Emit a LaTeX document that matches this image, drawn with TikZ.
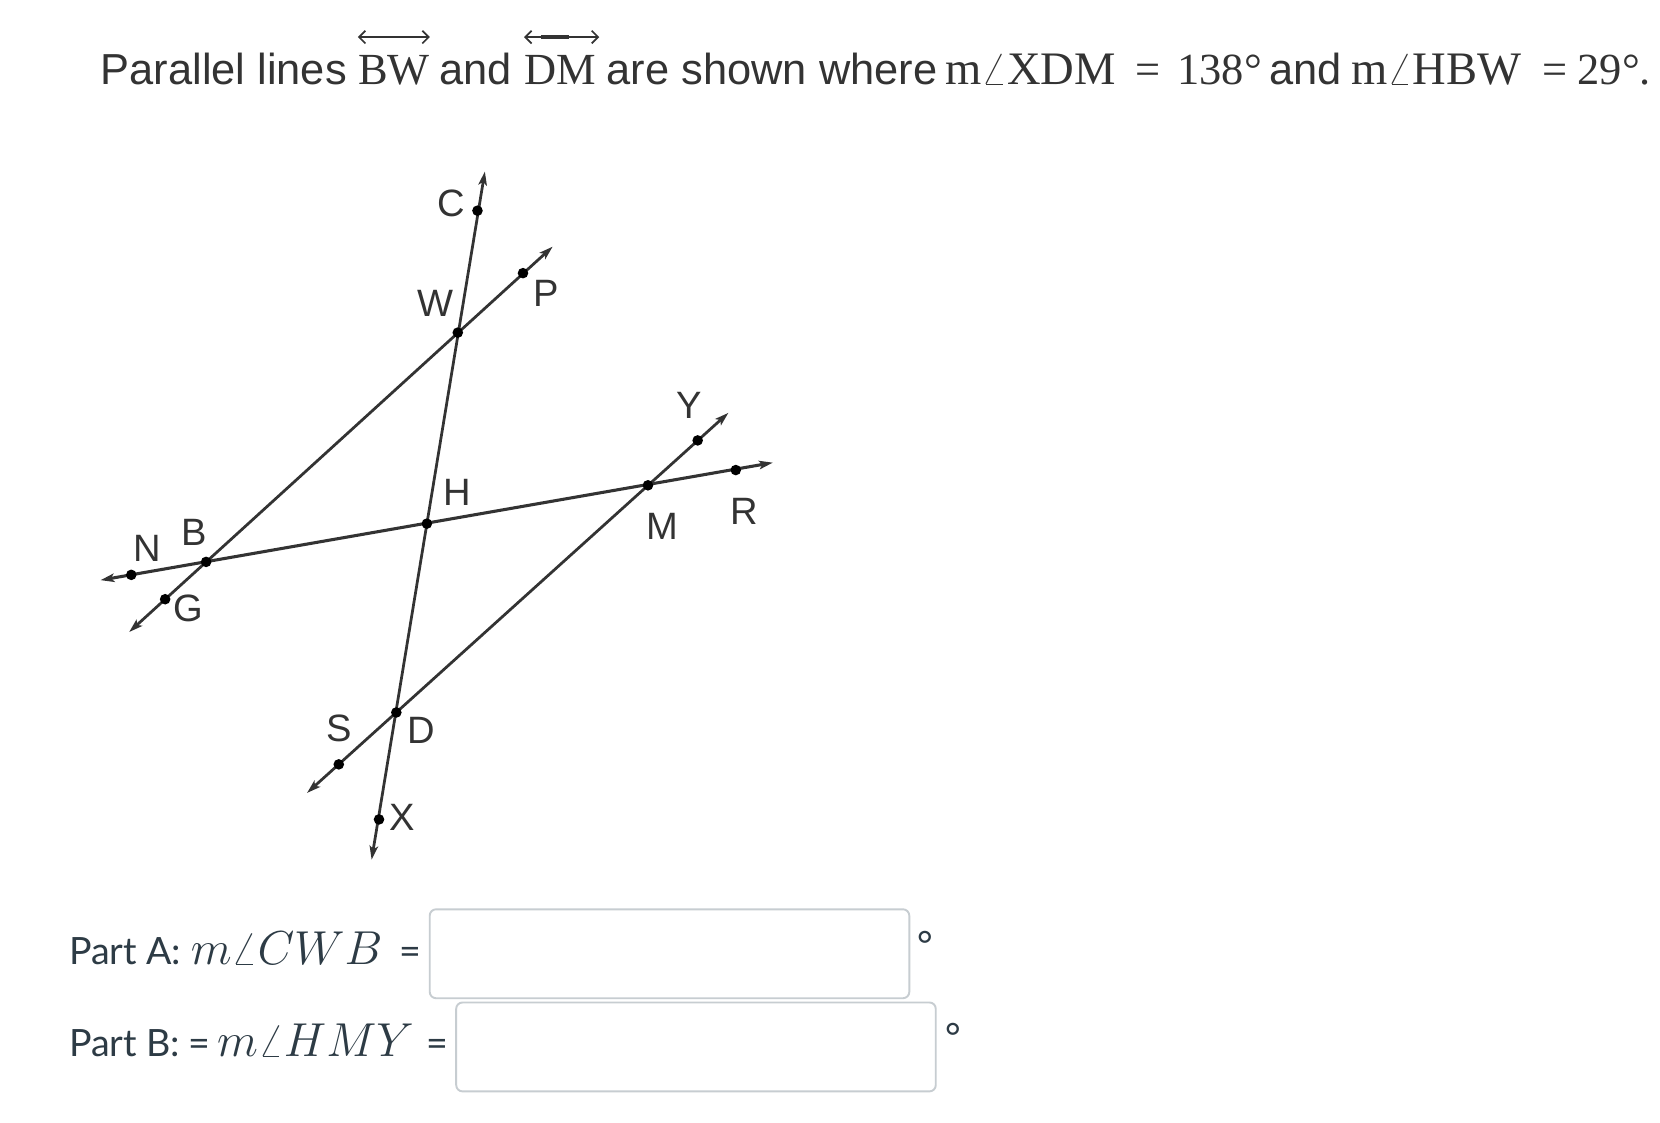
\RequirePackage{fix-cm}
\documentclass[tikz,border=0pt]{standalone}
\usepackage{fontspec}
\setmainfont{Liberation Serif}
\newfontfamily\hsans{Liberation Sans}
\newfontfamily\hserif{Liberation Serif}
\newfontfamily\lato{Lato}
\usetikzlibrary{arrows.meta,calc}
\definecolor{ink}{HTML}{333333}
\definecolor{lc}{HTML}{333333}
\definecolor{canvasink}{HTML}{2D3B45}
\definecolor{boxgray}{HTML}{C7CDD1}
\begin{document}
\begin{tikzpicture}[x=1pt,y=-1pt,
  hs/.style={inner sep=0pt, anchor=base west, text=ink, font=\hsans\fontsize{41}{45}\selectfont},
  hr/.style={inner sep=0pt, anchor=base west, text=ink, font=\hserif\fontsize{42}{45}\selectfont},
  hm/.style={inner sep=0pt, anchor=base west, text=ink, font=\hserif\fontsize{44}{45}\selectfont},
  ovarr/.style={draw=ink, line width=1.6pt, {Straight Barb[length=6pt,width=12pt,line width=1.6pt]}-{Straight Barb[length=6pt,width=12pt,line width=1.6pt]}},
  dline/.style={draw=lc, line width=2.6pt, {Stealth[length=13pt,width=8pt,inset=3pt]}-{Stealth[length=13pt,width=8pt,inset=3pt]}},
  dl/.style={inner sep=0pt, text=ink, font=\hsans\fontsize{36}{36}\selectfont},
  pt/.style={inner sep=0pt, anchor=base west, text=canvasink, font=\lato\fontsize{35.5}{40}\selectfont},
  pm/.style={inner sep=0pt, anchor=base west, text=canvasink, font=\fontsize{45}{50}\selectfont},
  ansbox/.style={draw=boxgray, fill=white, line width=1.8pt, rounded corners=6pt, minimum width=453pt, minimum height=84pt, inner sep=0pt, anchor=north west}
]
\fill[white] (0,0) rectangle (1568,1060);
\useasboundingbox (0,0) rectangle (1568,1060);

% heading
\node[hs] (t1) at (95,80) {Parallel lines};
\node[hr] (bw) at (338,80) {BW};
\node[hs] (t2) at (415,80) {and};
\node[hr] (dm) at (495,80) {DM};
\node[hs] (t3) at (573,80) {are shown where};
\node[hm] (e1) at (893,80) {m$\angle$XDM};
\node[hr] (q1) at (1072,80) {=};
\node[hr] (v1) at (1112,80) {138°};
\node[hs] (t4) at (1199,80) {and};
\node[hm] (e2) at (1276,80) {m$\angle$HBW};
\node[hr] (q2) at (1457,80) {=};
\node[hr] (v2) at (1490,80) {29°.};
\draw[ovarr] ([yshift=45pt]bw.base west) -- ([yshift=45pt]bw.base east);
\draw[ovarr] ([yshift=45pt]dm.base west) -- ([yshift=45pt,xshift=3pt]dm.base east);
\draw[draw=ink, line width=4pt] ([yshift=45pt,xshift=16pt]dm.base west) -- ([yshift=45pt,xshift=42pt]dm.base west);

% diagram points
\coordinate (C) at (451,199);
\coordinate (X) at (358,774);
\coordinate (N) at (124,543);
\coordinate (R) at (695,444);
\coordinate (G) at (156,566);
\coordinate (P) at (494,258);
\coordinate (S) at (320,722);
\coordinate (Y) at (659,416);
\coordinate (B) at (intersection of G--P and N--R);
\coordinate (W) at (intersection of G--P and C--X);
\coordinate (H) at (intersection of C--X and N--R);
\coordinate (M) at (intersection of S--Y and N--R);
\coordinate (D) at (intersection of S--Y and C--X);
% arrow tips
\coordinate (Ct) at (458,162);
\coordinate (Xt) at (351,812);
\coordinate (Nt) at (95,548);
\coordinate (Rt) at (730,437);
\coordinate (Gt) at (122,597);
\coordinate (Pt) at (522,233);
\coordinate (St) at (290,749);
\coordinate (Yt) at (688,390);

\draw[dline] (Xt) -- (Ct);
\draw[dline, line width=2.9pt] (Nt) -- (Rt);
\draw[dline] (Gt) -- (Pt);
\draw[dline] (St) -- (Yt);

\foreach \p in {C,X,N,R,G,P,S,Y,B,W,H,M,D}
  \fill[black] (\p) circle (5);

\node[dl] (lC) at (426,192) {C};
\node[dl] (lW) at (411,287) {W};
\node[dl] (lP) at (516,277) {P};
\node[dl] (lY) at (651,383) {Y};
\node[dl] (lH) at (432,465) {H};
\node[dl] (lM) at (626,497) {M};
\node[dl] (lR) at (703,483) {R};
\node[dl] (lN) at (139,518) {N};
\node[dl] (lB) at (183,503) {B};
\node[dl] (lG) at (178,575) {G};
\node[dl] (lS) at (320,688) {S};
\node[dl] (lD) at (398,690) {D};
\node[dl] (lX) at (380,772) {X};

% parts
\node[ansbox] (boxA) at (405,858) {};
\node[ansbox] (boxB) at (430,946) {};
\node[pt] (pa) at (65,911) {Part A:};
\node[pm] (ma) at (180,911) {$m\angle CWB$};
\node[pt] (qa) at (377,911) {=};
\node[pt] (pb) at (65,998) {Part B:};
\node[pt] (pbq) at (178,998) {=};
\node[pm] (mb) at (205,998) {$m\angle HMY$};
\node[pt] (qb) at (403,998) {=};
\node[pt, anchor=north] (dga) at (874,879) {°};
\node[pt, anchor=north] (dgb) at (900,966) {°};
\end{tikzpicture}
\end{document}
